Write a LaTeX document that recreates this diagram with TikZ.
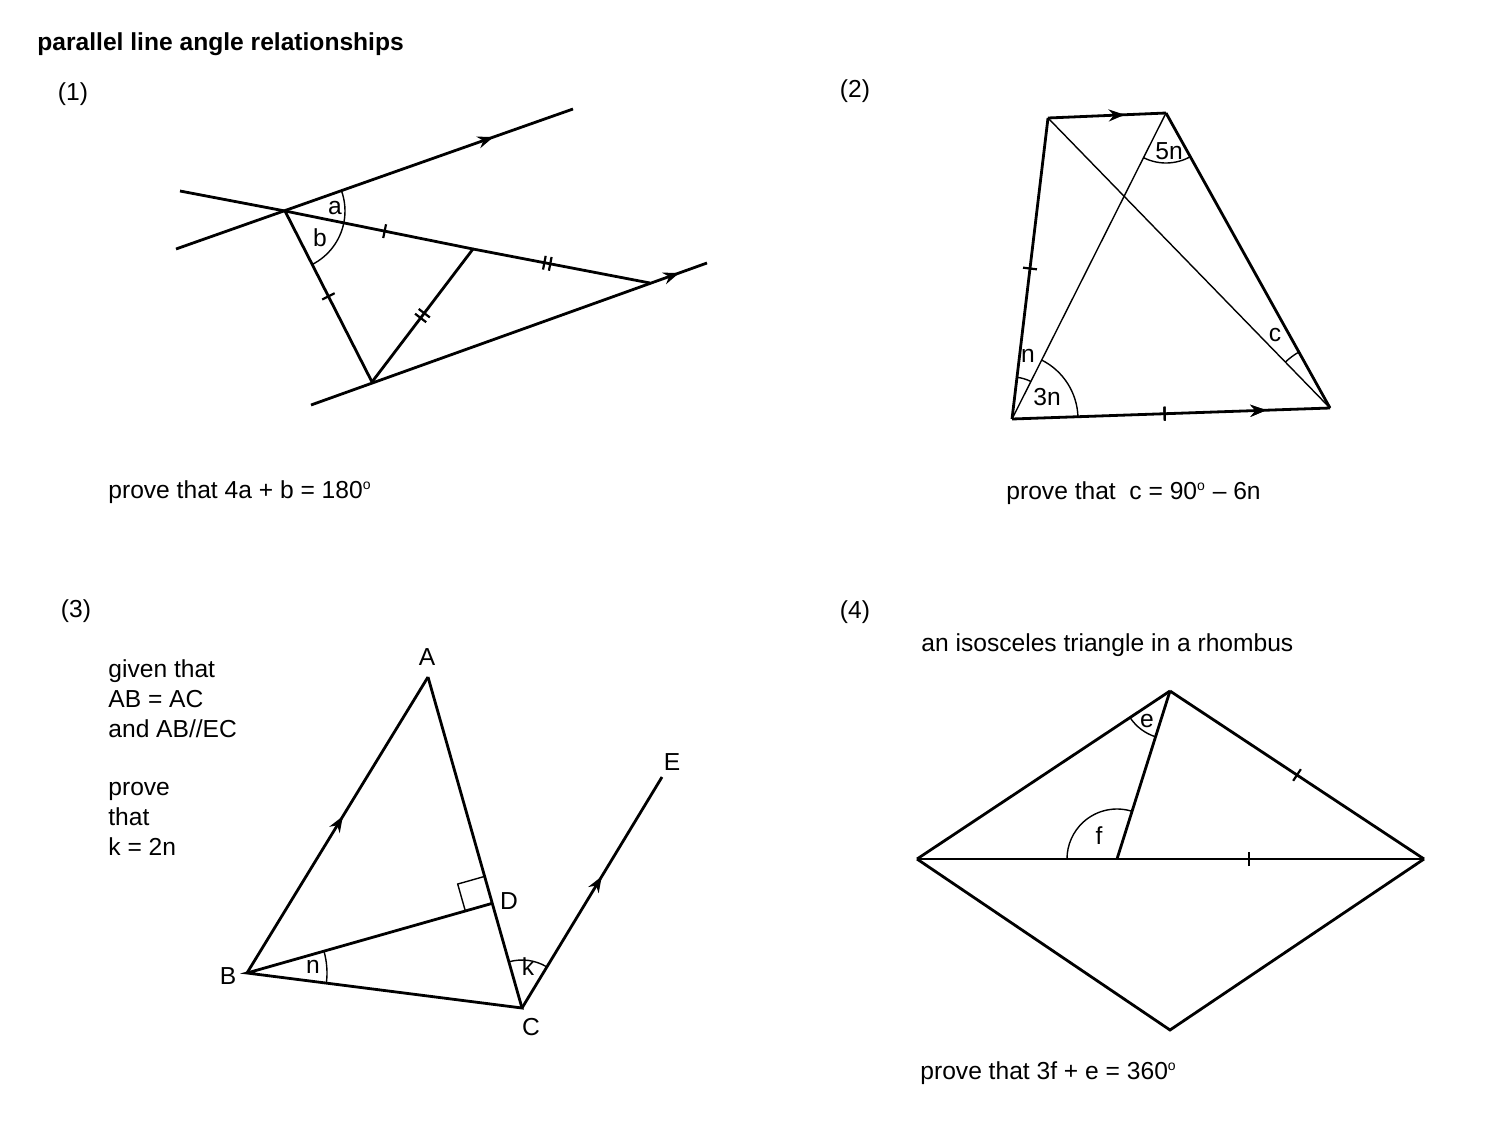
\documentclass[tikz,border=0pt]{standalone}
\usepackage{fontspec}
\setmainfont{Liberation Sans}
\usetikzlibrary{decorations.markings,arrows.meta,angles,calc}
\newcommand{\dg}{\textsuperscript{\scriptsize o}}
\begin{document}
\begin{tikzpicture}[x=0.5pt,y=-0.5pt,
  thk/.style={line width=1.4pt},
  thn/.style={line width=0.7pt},
  lbl/.style={font=\fontsize{12.3}{15}\selectfont,inner sep=0pt},
  arr/.style={postaction={decorate},decoration={markings,mark=at position #1 with {\arrow{Stealth[length=8pt,width=6pt]}}}},
  tk/.style={postaction={decorate},decoration={markings,mark=at position #1 with {\draw[line width=1.1pt] (0,-3.5pt)--(0,3.5pt);}}},
  tkk/.style={postaction={decorate},decoration={markings,mark=at position #1 with {\draw[line width=1.1pt] (-1.5pt,-3.5pt)--(-1.5pt,3.5pt) (1.5pt,-3.5pt)--(1.5pt,3.5pt);}}},
  ang/.style={draw,thn,angle radius=#1}]
\useasboundingbox (0,0) rectangle (1500,1125);
\node[lbl,anchor=west,font=\fontsize{12.3}{15}\selectfont\bfseries] (title) at (37,44) {parallel line angle relationships};
% (1)
\node[lbl] (n1) at (73,94) {(1)};
\coordinate (P) at (285,211);
\coordinate (U1) at (176,249); \coordinate (U2) at (573,109);
\coordinate (T1) at (180,191); \coordinate (X) at (650,283);
\coordinate (L1) at (311,405); \coordinate (L2) at (707,263);
\coordinate (Q) at (372,382); \coordinate (M) at (473,249);
\draw[thk,arr=0.8] (U1)--(U2);
\draw[thk,arr=0.93] (L1)--(L2);
\draw[thk] (T1)--(P);
\draw[thk,tk=0.53] (P)--(M);
\draw[thk,tkk=0.42] (M)--(X);
\draw[thk,tk=0.5] (P)--(Q);
\draw[thk,tkk=0.5] (Q)--(M);
\pic[ang=30] {angle=X--P--U2};
\pic[ang=30] {angle=Q--P--X};
\node[lbl] (la) at (335,208) {a};
\node[lbl] (lb) at (320,238) {b};
\node[lbl,anchor=west] (p1) at (108,492) {prove that 4a + b = 180\dg};
% (2)
\node[lbl] (n2) at (855,91) {(2)};
\coordinate (A2) at (1048,118); \coordinate (B2) at (1166,113);
\coordinate (C2) at (1330,408); \coordinate (D2) at (1012,419);
\draw[thk,arr=0.65] (A2)--(B2);
\draw[thk] (B2)--(C2);
\draw[thk,arr=0.8,tk=0.48] (D2)--(C2);
\draw[thk,tk=0.5] (D2)--(A2);
\draw[thn] (A2)--(C2);
\draw[thn] (D2)--(B2);
\pic[ang=25] {angle=D2--B2--C2};
\pic[ang=32] {angle=B2--C2--A2};
\pic[ang=21] {angle=B2--D2--A2};
\pic[ang=33] {angle=C2--D2--B2};
\node[lbl] (l5n) at (1169,151) {5n};
\node[lbl] (lc) at (1275,335) {c};
\node[lbl] (ln) at (1028,356) {n};
\node[lbl] (l3n) at (1047,397) {3n};
\node[lbl,anchor=west] (p2) at (1006,493) {prove that\ \ c = 90\dg{} -- 6n};
% (3)
\node[lbl] (n3) at (76,611) {(3)};
\node[lbl,anchor=north west,align=left] (g3) at (108,659) {given that\\AB = AC\\and AB//EC\\[14pt]prove\\that\\k = 2n};
\coordinate (A3) at (428,677); \coordinate (B3) at (247,973);
\coordinate (C3) at (522,1008); \coordinate (E3) at (662,777);
\coordinate (D3) at ($(A3)!(B3)!(C3)$);
\draw[thk,arr=0.53] (B3)--(A3);
\draw[thk] (A3)--(C3)--(B3)--(D3);
\draw[thk,arr=0.57] (C3)--(E3);
\draw[thn] ($(D3)!14pt!(B3)$) -- ($(D3)!14pt!(B3)!14pt!90:(D3)$) -- ($(D3)!14pt!(A3)$);
\pic[ang=40] {angle=C3--B3--D3};
\pic[ang=24] {angle=E3--C3--A3};
\node[lbl] (lA) at (427,657) {A};
\node[lbl] (lB) at (228,976) {B};
\node[lbl] (lC) at (531,1027) {C};
\node[lbl] (lD) at (509,901) {D};
\node[lbl] (lE) at (672,762) {E};
\node[lbl] (lnn) at (313,967) {n};
\node[lbl] (lk) at (528,967) {k};
% (4)
\node[lbl] (n4) at (855,612) {(4)};
\node[lbl,anchor=west] (h4) at (921,645) {an isosceles triangle in a rhombus};
\coordinate (L4) at (917,859); \coordinate (T4) at (1170,691);
\coordinate (R4) at (1424,859); \coordinate (B4) at (1170,1030);
\coordinate (F4) at (1117,859);
\draw[thk] (L4)--(T4);
\draw[thk,tk=0.5] (T4)--(R4);
\draw[thk] (R4)--(B4)--(L4);
\draw[thk] (L4)--(F4);
\draw[thk,tk=0.43] (F4)--(R4);
\draw[thk] (F4)--(T4);
\pic[ang=24] {angle=L4--T4--F4};
\pic[ang=25] {angle=T4--F4--L4};
\node[lbl] (le) at (1147,721) {e};
\node[lbl] (lf) at (1099,836) {f};
\node[lbl,anchor=west] (p4) at (920,1073) {prove that 3f + e = 360\dg};
\end{tikzpicture}
\end{document}
